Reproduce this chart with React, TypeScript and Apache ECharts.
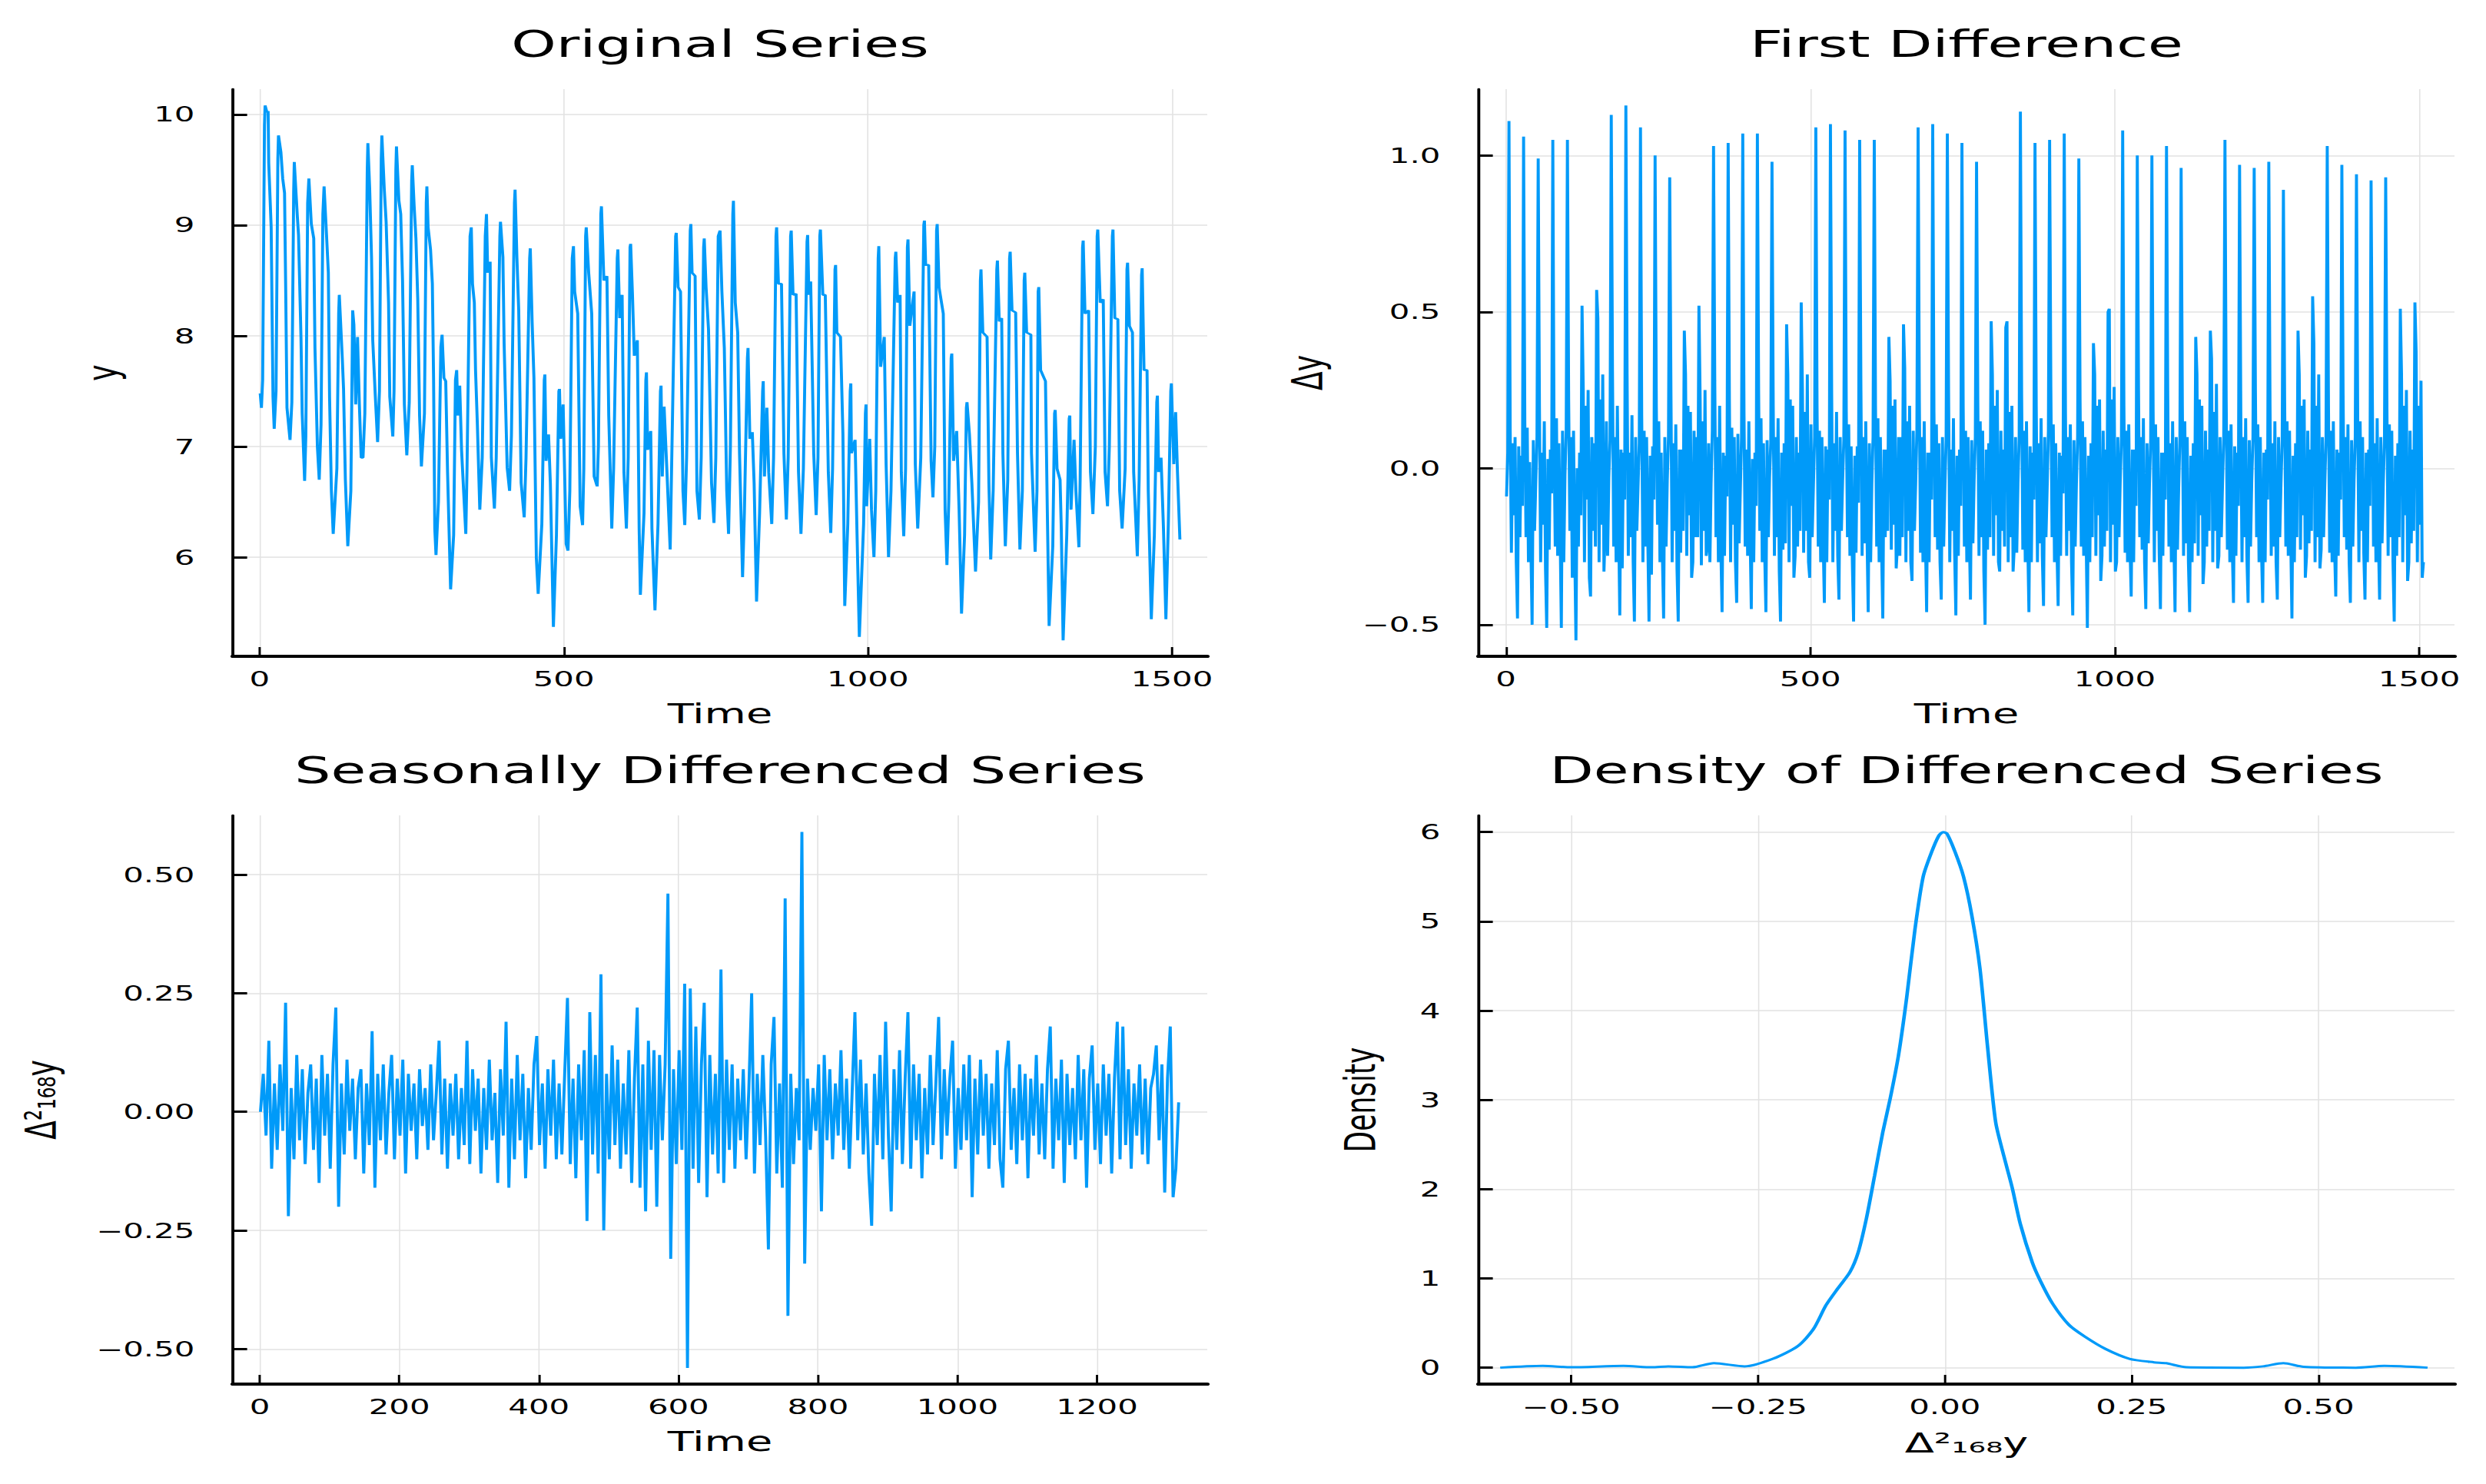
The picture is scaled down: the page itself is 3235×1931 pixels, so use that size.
import React, { useEffect, useRef } from "react";
import * as echarts from "echarts";

// Hourly series: [time, level] turning points of each daily cycle
const originalSeries: [number, number][] = [
  [1, 7.48], [3, 7.35], [5, 7.6], [8, 9.9], [9, 10.08], [12, 10.02], [14, 10.03], [15, 9.56], [19, 8.98], [22, 7.45], [24, 7.16],
  [27, 7.5], [30, 9.6], [31, 9.81], [35, 9.66], [38, 9.42], [41, 9.29], [43, 8.37], [45, 7.35], [50, 7.06],
  [53, 7.4], [56, 9.3], [57, 9.57], [62, 9.08], [64, 8.91], [68, 7.99], [70, 7.3], [74, 6.69],
  [76, 7.1], [79, 9.2], [81, 9.42], [85, 9.01], [89, 8.88], [91, 7.89], [95, 7.0], [98, 6.7],
  [101, 7.2], [104, 9.1], [106, 9.35], [110, 8.91], [113, 8.57], [115, 7.45], [118, 6.6], [121, 6.21],
  [127, 6.8], [130, 8.2], [131, 8.37], [136, 7.79], [138, 7.52], [141, 6.7], [145, 6.1],
  [150, 6.6], [153, 8.23], [155, 8.1], [158, 7.38], [161, 7.99], [164, 7.38], [167, 6.9], [170, 6.9],
  [173, 7.3], [177, 9.5], [178, 9.74], [181, 9.32], [184, 8.71], [186, 7.96], [190, 7.48], [194, 7.04],
  [197, 7.5], [200, 9.6], [201, 9.81], [205, 9.32], [208, 9.03], [212, 8.3], [214, 7.45], [219, 7.09],
  [221, 7.5], [224, 9.5], [225, 9.71], [229, 9.22], [232, 9.1], [235, 8.5], [238, 7.38], [242, 6.92],
  [246, 7.4], [250, 9.4], [251, 9.54], [254, 9.18], [257, 8.88], [260, 8.33], [263, 7.28], [266, 6.82],
  [271, 7.3], [274, 9.2], [275, 9.35], [277, 8.98], [281, 8.78], [284, 8.47], [286, 7.62], [288, 6.26], [290, 6.02],
  [294, 6.5], [298, 7.9], [300, 8.01], [303, 7.62], [306, 7.59], [309, 6.77], [314, 5.71],
  [319, 6.2], [322, 7.6], [324, 7.69], [326, 7.28], [329, 7.55], [332, 6.97], [339, 6.21],
  [341, 6.8], [346, 8.9], [348, 8.98], [350, 8.47], [353, 8.3], [355, 7.69], [358, 7.2], [362, 6.43],
  [366, 6.9], [371, 8.9], [373, 9.1], [375, 8.57], [379, 8.67], [381, 6.9], [386, 6.44],
  [389, 6.9], [395, 8.9], [396, 9.03], [400, 8.71], [402, 7.93], [407, 6.81], [411, 6.6],
  [414, 7.1], [419, 9.2], [420, 9.32], [423, 8.71], [426, 8.23], [430, 6.67], [435, 6.36],
  [438, 6.9], [444, 8.7], [445, 8.79], [448, 8.13], [451, 7.62], [455, 5.99], [458, 5.67],
  [464, 6.3], [468, 7.6], [469, 7.65], [471, 6.87], [475, 7.11], [478, 6.67], [483, 5.37],
  [488, 6.2], [492, 7.5], [493, 7.52], [495, 7.07], [499, 7.38], [504, 6.12], [507, 6.06],
  [510, 6.6], [514, 8.7], [516, 8.81], [518, 8.4], [523, 8.2], [527, 6.46], [531, 6.29],
  [533, 6.8], [536, 8.9], [537, 8.98], [541, 8.57], [546, 8.2], [550, 6.73], [555, 6.64],
  [557, 7.0], [561, 9.1], [562, 9.17], [566, 8.5], [571, 8.54], [574, 7.28], [579, 6.26],
  [582, 6.8], [588, 8.7], [589, 8.78], [592, 8.16], [596, 8.37], [599, 6.77], [603, 6.26],
  [606, 6.9], [609, 8.8], [610, 8.83], [613, 8.37], [616, 7.82], [621, 7.96], [624, 6.26], [626, 5.66],
  [632, 6.4], [635, 7.6], [636, 7.67], [638, 6.97], [643, 7.14], [645, 6.26], [650, 5.52],
  [655, 6.3], [659, 7.5], [660, 7.55], [662, 6.73], [665, 7.36], [670, 6.73], [675, 6.07],
  [677, 6.7], [684, 8.9], [685, 8.93], [688, 8.44], [692, 8.4], [696, 6.6], [699, 6.29],
  [702, 6.9], [708, 8.95], [709, 9.01], [711, 8.57], [716, 8.54], [719, 6.6], [723, 6.34],
  [726, 6.9], [730, 8.8], [731, 8.88], [734, 8.44], [738, 8.06], [743, 6.67], [747, 6.31],
  [750, 6.9], [754, 8.9], [757, 8.95], [760, 8.4], [764, 7.89], [768, 6.6], [771, 6.21],
  [774, 7.0], [778, 9.1], [779, 9.22], [782, 8.3], [786, 8.03], [789, 6.94], [794, 5.82],
  [797, 6.4], [802, 7.8], [803, 7.89], [806, 7.07], [810, 7.13], [813, 6.67], [817, 5.6],
  [822, 6.4], [827, 7.5], [828, 7.59], [830, 6.73], [834, 7.35], [837, 6.77], [842, 6.3],
  [845, 6.9], [849, 8.9], [850, 8.98], [853, 8.47], [858, 8.47], [862, 6.94], [866, 6.34],
  [869, 6.9], [873, 8.9], [874, 8.95], [877, 8.37], [882, 8.38], [886, 6.77], [890, 6.21],
  [894, 6.8], [900, 8.85], [901, 8.91], [903, 8.37], [906, 8.49], [911, 6.94], [915, 6.38],
  [918, 6.9], [921, 8.9], [922, 8.96], [926, 8.37], [930, 8.37], [935, 6.77], [939, 6.22],
  [942, 6.8], [946, 8.6], [947, 8.64], [949, 8.03], [955, 7.99], [959, 7.11], [962, 5.56],
  [967, 6.3], [971, 7.5], [972, 7.57], [973, 6.94], [979, 7.06], [982, 6.26], [986, 5.28],
  [993, 6.3], [996, 7.3], [997, 7.38], [998, 6.46], [1003, 7.07], [1006, 6.43], [1010, 6.0],
  [1013, 6.6], [1017, 8.7], [1018, 8.81], [1021, 7.72], [1027, 7.99], [1030, 6.84], [1034, 6.0],
  [1038, 6.6], [1045, 8.7], [1046, 8.76], [1049, 8.3], [1053, 8.37], [1055, 6.77], [1059, 6.19],
  [1062, 6.8], [1065, 8.8], [1066, 8.87], [1069, 8.09], [1076, 8.4], [1078, 6.84], [1082, 6.26],
  [1087, 6.9], [1092, 9.0], [1093, 9.04], [1095, 8.64], [1100, 8.64], [1104, 6.87], [1107, 6.54],
  [1110, 7.0], [1113, 8.95], [1114, 9.01], [1117, 8.44], [1124, 8.2], [1127, 6.43], [1130, 5.93],
  [1133, 6.5], [1137, 7.8], [1138, 7.84], [1141, 6.87], [1146, 7.14], [1150, 6.43], [1154, 5.49],
  [1159, 6.2], [1162, 7.35], [1163, 7.4], [1167, 7.11], [1171, 6.67], [1177, 5.87],
  [1182, 6.5], [1185, 8.5], [1186, 8.6], [1189, 8.03], [1196, 7.99], [1199, 6.67], [1202, 5.98],
  [1206, 6.6], [1212, 8.6], [1213, 8.68], [1216, 8.13], [1220, 8.16], [1222, 6.94], [1226, 6.1],
  [1230, 6.7], [1233, 8.7], [1234, 8.76], [1237, 8.23], [1243, 8.21], [1246, 6.94], [1250, 6.07],
  [1254, 6.6], [1257, 8.5], [1258, 8.57], [1261, 8.03], [1268, 8.01], [1269, 6.94], [1275, 6.05],
  [1278, 6.6], [1280, 8.4], [1281, 8.44], [1284, 7.69], [1292, 7.59], [1295, 6.43], [1298, 5.38],
  [1304, 6.1], [1307, 7.3], [1308, 7.33], [1311, 6.8], [1316, 6.7], [1318, 6.26], [1321, 5.25],
  [1327, 6.2], [1331, 7.25], [1332, 7.28], [1334, 6.43], [1339, 7.06], [1342, 6.6], [1347, 6.09],
  [1349, 6.7], [1353, 8.8], [1354, 8.86], [1357, 8.2], [1363, 8.23], [1366, 6.77], [1370, 6.39],
  [1374, 7.0], [1377, 8.9], [1378, 8.96], [1382, 8.3], [1387, 8.33], [1390, 6.77], [1394, 6.46],
  [1397, 7.0], [1402, 8.9], [1403, 8.96], [1406, 8.16], [1411, 8.15], [1414, 6.6], [1418, 6.26],
  [1423, 6.8], [1426, 8.6], [1427, 8.66], [1430, 8.09], [1435, 8.03], [1437, 6.77], [1443, 6.01],
  [1446, 6.7], [1450, 8.55], [1451, 8.61], [1454, 7.69], [1459, 7.69], [1461, 6.6], [1466, 5.44],
  [1471, 6.2], [1475, 7.4], [1476, 7.46], [1478, 6.77], [1482, 6.9], [1486, 6.26], [1490, 5.44],
  [1494, 6.3], [1498, 7.5], [1499, 7.57], [1503, 6.84], [1506, 7.31], [1509, 6.77], [1513, 6.16],
];

// First difference, one value every 2 hours starting at t = 1 (12 per day)
const diffStart = 1;
const diffStep = 2;
const firstDiff: number[] = [
  -0.09, 0.05, 1.11, 0.12, -0.27, 0.08, -0.15, 0.1, -0.3, -0.48, 0.07, -0.22,
  0.04, -0.12, 1.06, 0.15, -0.22, 0.13, -0.3, 0.02, -0.25, -0.5, 0.09, -0.2,
  -0.05, 0.1, 0.99, 0.2, -0.3, 0.05, -0.18, 0.15, -0.32, -0.51, 0.03, -0.26,
  0.06, -0.08, 1.05, 0.1, -0.25, 0.16, -0.28, 0.08, -0.2, -0.51, 0.12, -0.3,
  -0.02, 0.12, 1.05, 0.22, -0.2, 0.1, -0.35, 0.12, -0.26, -0.55, 0.0, -0.25,
  0.05, -0.15, 0.52, 0.25, -0.3, 0.2, -0.1, 0.25, -0.35, -0.41, 0.1, -0.2,
  0.08, -0.25, 0.57, 0.48, -0.3, 0.22, -0.18, 0.3, -0.33, -0.2, 0.15, -0.28,
  -0.03, 0.09, 1.13, 0.31, -0.25, 0.1, -0.3, 0.2, -0.15, -0.47, 0.06, -0.32,
  0.05, -0.1, 1.16, 0.3, -0.28, 0.05, -0.22, 0.17, -0.3, -0.49, 0.1, -0.2,
  -0.06, 0.08, 1.09, 0.17, -0.3, 0.12, -0.25, 0.1, -0.22, -0.49, 0.04, -0.34,
  0.07, -0.1, 1.0, 0.2, -0.18, 0.15, -0.3, 0.05, -0.28, -0.48, 0.1, -0.25,
  -0.04, 0.1, 0.93, 0.25, -0.3, 0.08, -0.2, 0.14, -0.32, -0.49, 0.06, -0.27,
  0.06, -0.2, 0.44, 0.3, -0.28, 0.2, -0.15, 0.18, -0.35, -0.3, 0.12, -0.22,
  0.1, -0.22, 0.52, 0.22, -0.31, 0.15, -0.2, 0.25, -0.28, -0.25, 0.08, -0.3,
  -0.05, 0.12, 1.03, 0.28, -0.22, 0.1, -0.3, 0.2, -0.25, -0.46, 0.05, -0.28,
  0.04, -0.09, 1.04, 0.22, -0.3, 0.13, -0.18, 0.1, -0.3, -0.43, 0.11, -0.24,
  -0.07, 0.1, 1.07, 0.18, -0.25, 0.06, -0.28, 0.15, -0.2, -0.45, 0.03, -0.3,
  0.05, -0.12, 1.07, 0.25, -0.2, 0.16, -0.3, 0.08, -0.27, -0.46, 0.09, -0.22,
  -0.03, 0.08, 0.98, 0.2, -0.28, 0.1, -0.22, 0.16, -0.33, -0.49, 0.05, -0.26,
  0.08, -0.24, 0.46, 0.3, -0.3, 0.22, -0.12, 0.2, -0.35, -0.28, 0.1, -0.25,
  0.05, -0.2, 0.53, 0.25, -0.27, 0.18, -0.2, 0.3, -0.3, -0.35, 0.14, -0.22,
  -0.06, 0.1, 1.09, 0.2, -0.25, 0.12, -0.3, 0.1, -0.22, -0.43, 0.07, -0.3,
  0.06, -0.1, 1.1, 0.24, -0.3, 0.08, -0.2, 0.18, -0.28, -0.42, 0.1, -0.2,
  -0.04, 0.09, 1.08, 0.18, -0.22, 0.14, -0.28, 0.07, -0.3, -0.49, 0.04, -0.27,
  0.07, -0.11, 1.05, 0.27, -0.28, 0.1, -0.24, 0.15, -0.2, -0.46, 0.08, -0.3,
  -0.05, 0.1, 1.05, 0.2, -0.25, 0.16, -0.3, 0.1, -0.26, -0.48, 0.06, -0.22,
  0.06, -0.2, 0.42, 0.28, -0.26, 0.2, -0.18, 0.22, -0.32, -0.25, 0.1, -0.28,
  0.1, -0.22, 0.46, 0.32, -0.3, 0.15, -0.2, 0.2, -0.3, -0.36, 0.12, -0.2,
  -0.05, 0.12, 1.09, 0.22, -0.27, 0.1, -0.3, 0.15, -0.22, -0.46, 0.05, -0.3,
  0.05, -0.1, 1.1, 0.18, -0.22, 0.14, -0.26, 0.08, -0.3, -0.42, 0.1, -0.25,
  -0.06, 0.09, 1.07, 0.25, -0.3, 0.06, -0.2, 0.16, -0.27, -0.47, 0.04, -0.28,
  0.06, -0.12, 1.04, 0.2, -0.25, 0.12, -0.3, 0.1, -0.2, -0.42, 0.09, -0.24,
  -0.04, 0.1, 0.98, 0.22, -0.28, 0.15, -0.22, 0.12, -0.33, -0.5, 0.06, -0.26,
  0.08, -0.22, 0.47, 0.3, -0.28, 0.2, -0.15, 0.25, -0.3, -0.33, 0.12, -0.2,
  0.06, -0.25, 0.45, 0.47, -0.3, 0.18, -0.22, 0.2, -0.33, -0.25, 0.1, -0.27,
  -0.05, 0.1, 1.14, 0.24, -0.26, 0.12, -0.3, 0.15, -0.22, -0.46, 0.07, -0.3,
  0.05, -0.1, 1.04, 0.2, -0.3, 0.08, -0.24, 0.16, -0.28, -0.44, 0.1, -0.22,
  -0.06, 0.12, 1.05, 0.26, -0.22, 0.14, -0.3, 0.08, -0.25, -0.44, 0.05, -0.28,
  0.04, -0.08, 1.07, 0.18, -0.28, 0.1, -0.2, 0.14, -0.3, -0.47, 0.09, -0.25,
  -0.05, 0.1, 0.99, 0.22, -0.25, 0.15, -0.28, 0.1, -0.22, -0.51, 0.04, -0.3,
  0.08, -0.22, 0.4, 0.3, -0.28, 0.2, -0.15, 0.22, -0.36, -0.28, 0.12, -0.25,
  0.06, -0.2, 0.5, 0.51, -0.3, 0.22, -0.18, 0.26, -0.33, -0.3, 0.1, -0.22,
  -0.04, 0.1, 1.08, 0.2, -0.27, 0.12, -0.3, 0.14, -0.25, -0.41, 0.06, -0.3,
  0.06, -0.12, 1.0, 0.25, -0.22, 0.1, -0.26, 0.16, -0.3, -0.45, 0.08, -0.24,
  -0.05, 0.09, 1.0, 0.18, -0.3, 0.14, -0.2, 0.1, -0.27, -0.45, 0.05, -0.28,
  0.05, -0.1, 1.03, 0.24, -0.25, 0.08, -0.3, 0.15, -0.22, -0.46, 0.1, -0.26,
  -0.06, 0.1, 0.96, 0.2, -0.28, 0.15, -0.24, 0.1, -0.3, -0.46, 0.04, -0.3,
  0.08, -0.24, 0.42, 0.3, -0.28, 0.22, -0.15, 0.2, -0.37, -0.3, 0.12, -0.25,
  0.06, -0.2, 0.44, 0.35, -0.3, 0.18, -0.2, 0.27, -0.32, -0.28, 0.1, -0.22,
  -0.05, 0.1, 1.05, 0.22, -0.26, 0.12, -0.3, 0.14, -0.25, -0.43, 0.07, -0.28,
  0.05, -0.12, 0.97, 0.18, -0.3, 0.1, -0.22, 0.16, -0.28, -0.43, 0.09, -0.25,
  -0.04, 0.1, 0.96, 0.25, -0.22, 0.14, -0.3, 0.1, -0.26, -0.43, 0.05, -0.3,
  0.06, -0.1, 0.98, 0.2, -0.28, 0.08, -0.25, 0.15, -0.3, -0.42, 0.1, -0.22,
  -0.05, 0.09, 0.89, 0.22, -0.25, 0.15, -0.28, 0.12, -0.22, -0.48, 0.04, -0.3,
  0.08, -0.22, 0.44, 0.3, -0.26, 0.2, -0.15, 0.22, -0.35, -0.28, 0.12, -0.24,
  0.06, -0.2, 0.55, 0.4, -0.3, 0.2, -0.22, 0.3, -0.32, -0.26, 0.1, -0.22,
  -0.05, 0.1, 1.03, 0.2, -0.27, 0.12, -0.3, 0.15, -0.25, -0.41, 0.06, -0.28,
  0.05, -0.1, 0.97, 0.24, -0.22, 0.1, -0.26, 0.14, -0.3, -0.43, 0.09, -0.25,
  -0.04, 0.1, 0.94, 0.18, -0.3, 0.15, -0.2, 0.1, -0.27, -0.42, 0.05, -0.3,
  0.06, -0.12, 0.92, 0.25, -0.25, 0.08, -0.3, 0.16, -0.22, -0.42, 0.1, -0.24,
  -0.05, 0.09, 0.93, 0.2, -0.28, 0.14, -0.22, 0.12, -0.3, -0.49, 0.04, -0.28,
  0.08, -0.22, 0.51, 0.3, -0.3, 0.2, -0.15, 0.25, -0.36, -0.3, 0.12, -0.24,
  0.06, -0.2, 0.53, 0.37, -0.3, 0.2, -0.18, 0.28, -0.35, -0.3,
];

// Seasonal (lag 168) difference of the first difference, one value every 4 hours from t = 1
const seasonalStart = 1;
const seasonalStep = 4;
const seasonalDiff: number[] = [
  0.0, 0.08, -0.05, 0.15, -0.12, 0.06, -0.08, 0.1, -0.04, 0.23,
  -0.22, 0.05, -0.1, 0.12, -0.06, 0.09, -0.11, 0.04, 0.1, -0.08,
  0.07, -0.15, 0.12, -0.05, 0.08, -0.12, 0.1, 0.22, -0.2, 0.06,
  -0.09, 0.11, -0.04, 0.07, -0.1, 0.05, 0.09, -0.13, 0.06, -0.07,
  0.17, -0.16, 0.08, -0.06, 0.1, -0.09, 0.04, 0.12, -0.1, 0.07,
  -0.05, 0.11, -0.13, 0.08, -0.04, 0.06, -0.1, 0.09, -0.03, 0.05,
  -0.08, 0.1, -0.06, 0.04, 0.15, -0.09, 0.07, -0.12, 0.06, -0.05,
  0.08, -0.1, 0.05, -0.07, 0.15, -0.11, 0.09, -0.04, 0.07, -0.13,
  0.05, -0.08, 0.11, -0.06, 0.04, -0.15, 0.09, -0.05, 0.19, -0.16,
  0.07, -0.1, 0.12, -0.06, 0.08, -0.14, 0.05, -0.08, 0.1, 0.16,
  -0.07, 0.06, -0.12, 0.09, -0.05, 0.11, -0.1, 0.06, -0.09, 0.08,
  0.24, -0.11, 0.07, -0.14, 0.1, -0.06, 0.13, -0.23, 0.21, -0.09,
  0.12, -0.13, 0.29, -0.25, 0.08, -0.1, 0.14, -0.07, 0.11, -0.12,
  0.06, -0.09, 0.13, -0.15, 0.07, 0.22, -0.16, 0.1, -0.21, 0.15,
  -0.08, 0.13, -0.2, 0.12, -0.06, 0.1, 0.46, -0.31, 0.09, -0.11,
  0.13, -0.08, 0.27, -0.54, 0.26, -0.12, 0.18, -0.15, 0.1, 0.23,
  -0.18, 0.12, -0.09, 0.08, -0.13, 0.3, -0.15, 0.11, -0.08, 0.1,
  -0.12, 0.07, -0.06, 0.09, -0.1, 0.05, 0.25, -0.13, 0.08, -0.07,
  0.12, -0.05, -0.29, 0.1, 0.2, -0.13, 0.06, -0.16, 0.45, -0.43,
  0.08, -0.11, 0.05, -0.06, 0.59, -0.32, 0.07, -0.08, 0.05, -0.04,
  0.1, -0.21, 0.12, -0.06, 0.09, -0.1, 0.06, -0.05, 0.13, -0.08,
  0.07, -0.12, 0.04, 0.21, -0.06, 0.11, -0.09, 0.06, -0.13, -0.24,
  0.08, -0.07, 0.12, -0.1, 0.19, -0.05, -0.21, 0.09, -0.08, 0.13,
  -0.11, 0.07, 0.21, -0.12, 0.1, -0.06, 0.08, -0.14, 0.05, -0.09,
  0.12, -0.07, 0.06, 0.2, -0.1, 0.09, -0.05, 0.07, 0.15, -0.12,
  0.05, -0.08, 0.1, -0.06, 0.12, -0.18, 0.07, -0.09, 0.11, -0.05,
  0.08, -0.12, 0.06, -0.07, 0.13, -0.1, -0.16, 0.09, 0.15, -0.08,
  0.05, -0.11, 0.1, -0.06, 0.08, -0.14, 0.07, -0.05, 0.12, -0.09,
  0.06, -0.1, 0.09, 0.18, -0.12, 0.07, -0.06, 0.11, -0.15, 0.08,
  -0.07, 0.05, -0.1, 0.12, -0.06, 0.09, -0.16, 0.07, 0.14, -0.08,
  0.06, -0.11, 0.1, -0.05, 0.08, -0.13, 0.07, 0.19, -0.1, 0.18,
  -0.07, 0.09, -0.12, 0.06, -0.05, 0.1, -0.09, 0.07, -0.11, 0.05,
  0.08, 0.14, -0.06, 0.1, -0.17, 0.07, 0.18, -0.18, -0.12, 0.02,
];

// Kernel density estimate of the seasonally differenced series
const densityX: number[] = [
  -0.595, -0.538, -0.5, -0.43, -0.392, -0.37, -0.338, -0.309, -0.268, -0.23,
  -0.197, -0.176, -0.159, -0.143, -0.127, -0.116, -0.105, -0.094, -0.083, -0.073,
  -0.062, -0.051, -0.04, -0.029, -0.018, -0.008, -0.002, 0.003, 0.014, 0.025,
  0.036, 0.047, 0.057, 0.068, 0.079, 0.09, 0.101, 0.117, 0.128, 0.144,
  0.166, 0.187, 0.215, 0.247, 0.28, 0.296, 0.323, 0.4, 0.426, 0.453,
  0.48, 0.55, 0.588, 0.646,
];
const densityY: number[] = [
  0.0, 0.02, 0.005, 0.02, 0.005, 0.015, 0.005, 0.05, 0.015, 0.1,
  0.24, 0.43, 0.7, 0.89, 1.07, 1.29, 1.67, 2.15, 2.64, 3.02,
  3.5, 4.15, 4.91, 5.5, 5.77, 5.96, 6.0, 5.98, 5.77, 5.5,
  5.07, 4.47, 3.61, 2.75, 2.37, 2.02, 1.61, 1.18, 0.97, 0.72,
  0.48, 0.35, 0.21, 0.1, 0.06, 0.05, 0.005, 0.0, 0.015, 0.05,
  0.01, 0.0, 0.02, 0.0,
];

// Tick positions
const timeTicks = [0, 500, 1000, 1500];
const levelTicks = [6, 7, 8, 9, 10];
const diffTicks = [-0.5, 0, 0.5, 1.0];
const seasonalTimeTicks = [0, 200, 400, 600, 800, 1000, 1200];
const seasonalTicks = [-0.5, -0.25, 0, 0.25, 0.5];
const densityXTicks = [-0.5, -0.25, 0, 0.25, 0.5];
const densityYTicks = [0, 1, 2, 3, 4, 5, 6];

// Page geometry: the figure is drawn narrower and widened horizontally
const PAGE_W = 3235;
const PAGE_H = 1931;
const STRETCH = 1.55;
const INNER_W = PAGE_W / STRETCH;

const FONT = "'DejaVu Sans', 'Noto Sans', sans-serif";
const LINE_BLUE = "#009af9";
const GRID_GREY = "#e2e2e2";
const TICK_SIZE = 27;
const NAME_SIZE = 36;
const TITLE_SIZE = 48;
const SERIES_WIDTH = 2.5;

const signFix = (s: string) => s.replace("-", "\u2212");
const fixedFmt = (digits: number) => (v: number) =>
  signFix((Math.abs(v) < 1e-9 ? 0 : v).toFixed(digits));

type Panel = {
  title: string;
  box: { left: number; top: number; width: number; height: number };
  xRange: [number, number];
  yRange: [number, number];
  xTicks: number[];
  yTicks: number[];
  xFmt: (v: number) => string;
  yFmt: (v: number) => string;
  xName: string;
  yName: string;
  xNameGap: number;
  yNameGap: number;
  yLabelMargin: number;
};

const panels: Panel[] = [
  {
    title: "Original Series",
    box: { left: 303, top: 116, width: 1268, height: 738 },
    xRange: [-44, 1558],
    yRange: [5.105, 10.228],
    xTicks: timeTicks,
    yTicks: levelTicks,
    xFmt: fixedFmt(0),
    yFmt: fixedFmt(0),
    xName: "Time",
    yName: "y",
    xNameGap: 56,
    yNameGap: 92,
    yLabelMargin: 32,
  },
  {
    title: "First Difference",
    box: { left: 1924, top: 116, width: 1270, height: 738 },
    xRange: [-45, 1558],
    yRange: [-0.601, 1.212],
    xTicks: timeTicks,
    yTicks: diffTicks,
    xFmt: fixedFmt(0),
    yFmt: fixedFmt(1),
    xName: "Time",
    yName: "\u0394y",
    xNameGap: 56,
    yNameGap: 126,
    yLabelMargin: 32,
  },
  {
    title: "Seasonally Differenced Series",
    box: { left: 303, top: 1061, width: 1268, height: 740 },
    xRange: [-38.6, 1358],
    yRange: [-0.574, 0.625],
    xTicks: seasonalTimeTicks,
    yTicks: seasonalTicks,
    xFmt: fixedFmt(0),
    yFmt: fixedFmt(2),
    xName: "Time",
    yName: "\u0394\u00b2\u2081\u2086\u2088y",
    xNameGap: 56,
    yNameGap: 144,
    yLabelMargin: 32,
  },
  {
    title: "Density of Differenced Series",
    box: { left: 1924, top: 1061, width: 1270, height: 740 },
    xRange: [-0.624, 0.682],
    yRange: [-0.184, 6.187],
    xTicks: densityXTicks,
    yTicks: densityYTicks,
    xFmt: fixedFmt(2),
    yFmt: fixedFmt(0),
    xName: "\u0394\u00b2\u2081\u2086\u2088y",
    yName: "Density",
    xNameGap: 58,
    yNameGap: 82,
    yLabelMargin: 32,
  },
];

function buildOption() {
  const grid = panels.map((p) => ({
    left: p.box.left / STRETCH,
    top: p.box.top,
    width: p.box.width / STRETCH,
    height: p.box.height,
    containLabel: false,
  }));

  const nameStyle = { fontFamily: FONT, fontSize: NAME_SIZE, color: "#000" };

  const xAxis = panels.map((p, i) => ({
    type: "value",
    gridIndex: i,
    min: p.xRange[0],
    max: p.xRange[1],
    axisLine: { show: true, onZero: false, lineStyle: { color: "#000", width: 4 } },
    axisTick: {
      show: true,
      inside: true,
      length: 12,
      customValues: p.xTicks,
      lineStyle: { color: "#000", width: 1.9 },
    },
    axisLabel: {
      customValues: p.xTicks,
      formatter: (v: number) => p.xFmt(v),
      fontFamily: FONT,
      fontSize: TICK_SIZE,
      color: "#000",
      margin: 16,
    },
    splitLine: { show: true, lineStyle: { color: GRID_GREY, width: 1.0 } },
    name: p.xName,
    nameLocation: "middle",
    nameGap: p.xNameGap,
    nameTextStyle: nameStyle,
  }));

  const yAxis = panels.map((p, i) => ({
    type: "value",
    gridIndex: i,
    min: p.yRange[0],
    max: p.yRange[1],
    axisLine: { show: true, onZero: false, lineStyle: { color: "#000", width: 2.5 } },
    axisTick: {
      show: true,
      inside: true,
      length: 12,
      customValues: p.yTicks,
      lineStyle: { color: "#000", width: 3 },
    },
    axisLabel: {
      customValues: p.yTicks,
      formatter: (v: number) => p.yFmt(v),
      fontFamily: FONT,
      fontSize: TICK_SIZE,
      color: "#000",
      margin: p.yLabelMargin,
    },
    splitLine: { show: true, lineStyle: { color: GRID_GREY, width: 1.6 } },
    name: p.yName,
    nameLocation: "middle",
    nameGap: p.yNameGap,
    nameTextStyle: nameStyle,
  }));

  const lineStyle = { color: LINE_BLUE, width: SERIES_WIDTH };
  const series = [
    {
      type: "line",
      xAxisIndex: 0,
      yAxisIndex: 0,
      data: originalSeries,
      showSymbol: false,
      lineStyle,
      z: 3,
    },
    {
      type: "line",
      xAxisIndex: 1,
      yAxisIndex: 1,
      data: firstDiff.map((v, k) => [diffStart + diffStep * k, v]),
      showSymbol: false,
      lineStyle,
      z: 3,
    },
    {
      type: "line",
      xAxisIndex: 2,
      yAxisIndex: 2,
      data: seasonalDiff.map((v, k) => [seasonalStart + seasonalStep * k, v]),
      showSymbol: false,
      lineStyle,
      z: 3,
    },
    {
      type: "line",
      xAxisIndex: 3,
      yAxisIndex: 3,
      data: densityX.map((x, k) => [x, densityY[k]]),
      showSymbol: false,
      smooth: 0.25,
      lineStyle: { color: LINE_BLUE, width: 3 },
      z: 3,
    },
  ];

  const graphic = panels.map((p) => ({
    type: "text",
    x: (p.box.left + p.box.width / 2) / STRETCH,
    y: p.box.top - 58,
    silent: true,
    style: {
      text: p.title,
      fontFamily: FONT,
      fontSize: TITLE_SIZE,
      fill: "#000",
      align: "center",
      verticalAlign: "middle",
      textAlign: "center",
      textVerticalAlign: "middle",
    },
  }));

  return {
    animation: false,
    backgroundColor: "#ffffff",
    grid,
    xAxis,
    yAxis,
    series,
    graphic,
  };
}

export default function App() {
  const ref = useRef<HTMLDivElement>(null);
  useEffect(() => {
    if (!ref.current) return;
    const chart = echarts.init(ref.current, undefined, {
      renderer: "svg",
      width: INNER_W,
      height: PAGE_H,
    });
    chart.setOption(buildOption() as any);
    return () => chart.dispose();
  }, []);
  return (
    <div
      ref={ref}
      style={{
        position: "absolute",
        left: 0,
        top: 0,
        width: INNER_W,
        height: PAGE_H,
        transform: `scaleX(${STRETCH})`,
        transformOrigin: "0 0",
        background: "#fff",
      }}
    />
  );
}
